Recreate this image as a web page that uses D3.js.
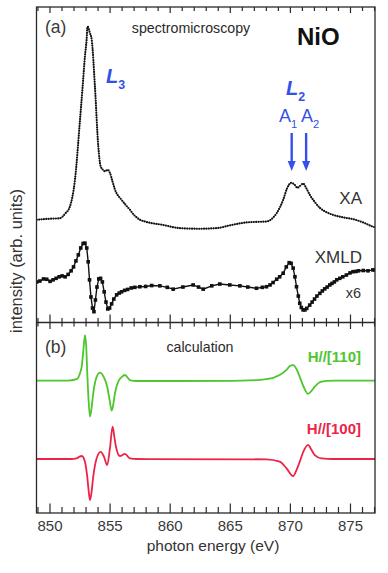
<!DOCTYPE html>
<html>
<head>
<meta charset="utf-8">
<script src="https://cdn.jsdelivr.net/npm/d3@7"></script>
<style>
  body { margin: 0; background: #fff; }
  svg text { font-family: "Liberation Sans", Arial, sans-serif; }
</style>
</head>
<body>
<svg id="chart" width="388" height="573"></svg>
<script>
// ---- measured spectra (a) ----
const xaEnergy = [848.94, 849.9, 850.87, 851.3, 851.7, 852.12, 852.54, 852.76, 852.95, 853.09, 853.16, 853.23, 853.35,
    853.51, 853.78, 854.06, 854.26, 854.45, 854.61, 854.85, 855.03, 855.25, 855.45, 856.0, 856.69, 857.1, 857.52,
    857.94, 859.4, 860.85, 862.4, 863.9, 865.2, 866.4, 867.3, 868.05, 868.5, 868.9, 869.44, 869.77, 870.13, 870.4,
    870.63, 870.85, 871.1, 871.35, 871.65, 872.05, 872.5, 873.0, 873.6, 874.4, 875.25, 876.1, 876.9, 877.08];
const xaIntensity = [34.2, 34.5, 34.7, 36.2, 38.6, 47.5, 67.5, 78.6, 88.6, 94.2, 98.5, 98.2, 96.5,
    94.2, 78.6, 58.6, 51.9, 50.8, 50.3, 50.8, 49.8, 46.8, 44.2, 40.8, 37.5, 35.5, 34.2,
    33.6, 32.5, 31.4, 31.2, 31.4, 32.5, 33.3, 33.5, 33.6, 34.5, 36.4, 40.8, 44.7, 46.5, 45.8,
    44.8, 45.5, 46.2, 44.8, 42.5, 40.2, 38.1, 36.8, 35.8, 35.0, 34.4, 33.3, 31.9, 31.7];

const xmldEnergy = [848.94, 849.2, 849.5, 849.77, 850.05, 850.3, 850.55, 850.8, 851.05, 851.3, 851.55, 851.8,
    852.0, 852.2, 852.4, 852.6, 852.8, 852.95, 853.1, 853.22, 853.33, 853.45, 853.58, 853.7, 853.82, 853.95,
    854.1, 854.25, 854.4, 854.55, 854.7, 854.85, 855.0, 855.17, 855.35, 855.59, 855.8, 856.0, 856.25, 856.5,
    856.8, 857.1, 857.52, 858.0, 858.5, 859.18, 859.8, 860.29, 861.1, 861.95, 862.4, 862.79, 863.5, 864.17,
    865.0, 865.84, 866.5, 867.22, 867.7, 868.05, 868.35, 868.6, 868.9, 869.15, 869.44, 869.7, 869.94, 870.1,
    870.27, 870.42, 870.55, 870.7, 870.82, 870.95, 871.1, 871.25, 871.4, 871.65, 871.85, 872.05, 872.25, 872.49,
    872.7, 872.9, 873.1, 873.32, 873.5, 873.7, 873.9, 874.15, 874.4, 874.7, 875.0, 875.25, 875.5, 875.7,
    876.1, 876.5, 876.9, 877.08];
const xmldIntensity = [13.5, 13.8, 14.5, 14.4, 13.7, 14.2, 14.7, 15.2, 15.5, 15.2, 16.0, 17.2,
    18.5, 20.5, 22.5, 24.8, 26.3, 26.4, 24.8, 20.2, 14.2, 8.5, 4.8, 3.6, 7.5, 11.8,
    14.5, 14.7, 13.5, 10.2, 6.8, 4.5, 4.8, 6.2, 7.8, 9.2, 9.8, 10.2, 10.7, 11.0,
    11.5, 11.7, 11.9, 12.0, 12.3, 12.2, 11.7, 11.1, 11.8, 12.5, 11.8, 11.1, 12.2, 12.8,
    12.5, 12.2, 11.8, 11.4, 11.7, 11.9, 12.5, 13.3, 14.4, 15.2, 16.4, 18.5, 19.9, 19.7,
    18.1, 15.2, 11.9, 8.8, 6.4, 5.0, 4.2, 4.2, 4.7, 5.8, 6.8, 7.8, 8.8, 9.7,
    10.5, 11.2, 11.8, 12.5, 13.0, 13.5, 14.2, 14.7, 15.2, 15.8, 16.5, 16.9, 17.0, 17.2,
    17.3, 17.2, 17.5, 17.5];

// ---- calculated spectra (b) ----
const h110Energy = [848.94, 851.5, 852.26, 852.54, 852.68, 852.82, 852.95, 853.05, 853.14, 853.25, 853.37, 853.5,
    853.64, 853.92, 854.2, 854.53, 854.8, 855.0, 855.17, 855.3, 855.45, 855.72, 856.0, 856.28, 856.69, 857.25,
    860.0, 866.0, 868.05, 869.15, 869.72, 870.0, 870.27, 870.55, 870.82, 871.15, 871.51, 871.8, 872.07, 872.63,
    873.6, 877.08];
const h110Intensity = [44.1, 44.1, 44.6, 46.6, 48.8, 54.3, 59.3, 56.0, 47.0, 37.7, 32.1, 35.0,
    39.9, 45.4, 46.8, 45.2, 42.1, 37.7, 34.1, 36.0, 40.0, 43.8, 45.3, 46.0, 44.3, 44.0,
    44.0, 44.1, 44.6, 46.0, 47.7, 49.0, 49.3, 48.0, 45.4, 42.0, 39.7, 40.7, 42.1, 43.8,
    44.1, 44.1];

const h100Energy = [848.94, 851.8, 852.26, 852.5, 852.68, 852.95, 853.14, 853.25, 853.37, 853.5, 853.64, 853.92,
    854.26, 854.53, 854.8, 855.03, 855.25, 855.4, 855.53, 855.86, 856.28, 856.69, 857.3, 868.05, 869.15, 869.72,
    870.27, 870.55, 870.82, 871.15, 871.51, 871.8, 872.07, 872.63, 873.6, 877.08];
const h100Intensity = [18.0, 18.0, 18.2, 18.8, 19.0, 17.1, 12.1, 7.7, 4.3, 7.0, 12.1, 18.2,
    20.4, 18.8, 16.0, 21.6, 28.8, 25.3, 22.1, 19.0, 19.7, 18.2, 18.0, 17.9, 17.1, 14.9,
    12.3, 14.3, 17.1, 20.7, 22.7, 21.0, 19.3, 18.2, 18.0, 18.0];

const majorTicks = [850, 855, 860, 865, 870, 875];
const minorTicks = [849, 851, 852, 853, 854, 856, 857, 858, 859, 861, 862, 863, 864, 866, 867, 868, 869, 871, 872, 873, 874, 876, 877];
const arrowEnergy = [870.15, 871.35];

const frame = { left: 36.5, right: 375, top: 7, mid: 322.5, bottom: 513 };
const colors = { ink: "#2a2a2a", blue: "#3550e6", green: "#4ec62e", red: "#ec2448" };

const svg = d3.select("#chart");

const x = d3.scaleLinear().domain([848.92, 877.08]).range([frame.left, frame.right]);
const yA = d3.scaleLinear().domain([0, 105]).range([frame.mid, frame.top]);
const yB = d3.scaleLinear().domain([0, 63.5]).range([frame.bottom, frame.mid]);

svg.append("clipPath").attr("id", "clip")
    .append("rect")
    .attr("x", frame.left).attr("y", frame.top)
    .attr("width", frame.right - frame.left).attr("height", frame.bottom - frame.top);

const plot = svg.append("g").attr("clip-path", "url(#clip)");

function zip(es, vs){
    return es.map((e, i) => [e, vs[i]]);
}

// XA: dotted data on a thin grey line
const lineA = d3.line().x(d => x(d[0])).y(d => yA(d[1])).curve(d3.curveMonotoneX);
const xa = zip(xaEnergy, xaIntensity);
plot.append("path").attr("d", lineA(xa))
    .attr("fill", "none").attr("stroke", "#8a8a8a").attr("stroke-width", 0.8);
plot.append("path").attr("d", lineA(xa))
    .attr("fill", "none").attr("stroke", "#111").attr("stroke-width", 2.2)
    .attr("stroke-linecap", "round").attr("stroke-dasharray", "0 2.4");

// XMLD: squares joined by a line
const xmld = zip(xmldEnergy, xmldIntensity);
const lineM = d3.line().x(d => x(d[0])).y(d => yA(d[1]));
plot.append("path").attr("d", lineM(xmld))
    .attr("fill", "none").attr("stroke", "#111").attr("stroke-width", 1.4);
plot.selectAll("rect.sq")
    .data(xmld)
    .join("rect")
    .attr("class", "sq")
    .attr("x", d => x(d[0]) - 1.8)
    .attr("y", d => yA(d[1]) - 1.8)
    .attr("width", 3.6).attr("height", 3.6)
    .attr("fill", "#111");

// calculation
const lineB = d3.line().x(d => x(d[0])).y(d => yB(d[1])).curve(d3.curveMonotoneX);
plot.append("path").attr("d", lineB(zip(h110Energy, h110Intensity)))
    .attr("fill", "none").attr("stroke", colors.green).attr("stroke-width", 1.8);
plot.append("path").attr("d", lineB(zip(h100Energy, h100Intensity)))
    .attr("fill", "none").attr("stroke", colors.red).attr("stroke-width", 1.8);

// frame + ticks
svg.append("rect")
    .attr("x", frame.left).attr("y", frame.top)
    .attr("width", frame.right - frame.left).attr("height", frame.bottom - frame.top)
    .attr("fill", "none").attr("stroke", colors.ink).attr("stroke-width", 1.3);
svg.append("line")
    .attr("x1", frame.left).attr("x2", frame.right)
    .attr("y1", frame.mid).attr("y2", frame.mid)
    .attr("stroke", colors.ink).attr("stroke-width", 1.3);

function tickAxis(y, values, size, withLabels){
    const g = svg.append("g")
        .attr("transform", `translate(0, ${y})`)
        .call(d3.axisBottom(x).tickValues(values).tickSize(size).tickPadding(7)
            .tickFormat(withLabels ? d3.format("d") : ""));
    g.select(".domain").remove();
    g.selectAll("line").attr("stroke", colors.ink).attr("stroke-width", 1.2);
    g.selectAll("text")
        .attr("fill", "#3a3a3a")
        .style("font-size", "15px");
    return g;
}

tickAxis(frame.top, majorTicks, 6, false);
tickAxis(frame.top, minorTicks, 4, false);
tickAxis(frame.mid, majorTicks, -8, false);
tickAxis(frame.mid, minorTicks, -4.5, false);
tickAxis(frame.mid, majorTicks, 6.5, false);
tickAxis(frame.mid, minorTicks, 4, false);
tickAxis(frame.bottom, minorTicks, -6, false);
tickAxis(frame.bottom, majorTicks, -9.5, true);

// axis titles
svg.append("text")
    .attr("x", 213).attr("y", 551)
    .attr("text-anchor", "middle")
    .attr("fill", "#333").style("font-size", "15.5px")
    .text("photon energy (eV)");
svg.append("text")
    .attr("transform", "translate(22, 261) rotate(-90)")
    .attr("text-anchor", "middle")
    .attr("fill", "#333").style("font-size", "16.5px")
    .text("intensity (arb. units)");

// panel labels
function label(tx, ty, str, size, opts = {}){
    return svg.append("text")
        .attr("x", tx).attr("y", ty)
        .attr("text-anchor", opts.anchor || "start")
        .attr("fill", opts.fill || "#333")
        .style("font-size", size + "px")
        .style("font-weight", opts.weight || "normal")
        .style("font-style", opts.style || "normal")
        .text(str);
}

label(45, 33, "(a)", 17.5, { fill: "#3a3a3a" });
label(45, 353, "(b)", 17.5, { fill: "#3a3a3a" });
label(191, 33, "spectromicroscopy", 14.2, { anchor: "middle", fill: "#2a2a2a" });
label(200, 352, "calculation", 14.2, { anchor: "middle", fill: "#2a2a2a" });
label(297, 45, "NiO", 24, { weight: "bold", fill: "#111" });
label(362, 204, "XA", 17, { anchor: "end" });
label(362, 263, "XMLD", 17, { anchor: "end" });
label(361, 298, "x6", 14.5, { anchor: "end" });
label(361, 362, "H//[110]", 15, { anchor: "end", weight: "bold", fill: colors.green });
label(361, 434, "H//[100]", 15, { anchor: "end", weight: "bold", fill: colors.red });

// L3 / L2 edges
function edge(tx, ty, main, sub, size, bold){
    const t = svg.append("text")
        .attr("x", tx).attr("y", ty)
        .attr("fill", colors.blue)
        .style("font-size", size + "px")
        .style("font-weight", bold ? "bold" : "normal")
        .style("font-style", bold ? "italic" : "normal");
    t.append("tspan").text(main);
    t.append("tspan").attr("dy", 6).style("font-size", (size * 0.62) + "px")
        .style("font-style", "normal").text(sub);
}
edge(106, 83, "L", "3", 20, true);
edge(286, 95, "L", "2", 20, true);
edge(279, 122, "A", "1", 18, false);
edge(301, 122, "A", "2", 18, false);

// arrows to A1 / A2
const arrowTop = 133, arrowTip = 171;
arrowEnergy.forEach(e => {
    const ax = x(e);
    svg.append("line")
        .attr("x1", ax).attr("x2", ax)
        .attr("y1", arrowTop).attr("y2", arrowTip - 8)
        .attr("stroke", colors.blue).attr("stroke-width", 2.4);
    svg.append("path")
        .attr("d", `M${ax - 4},${arrowTip - 10} L${ax + 4},${arrowTip - 10} L${ax},${arrowTip} Z`)
        .attr("fill", colors.blue);
});
</script>
</body>
</html>
